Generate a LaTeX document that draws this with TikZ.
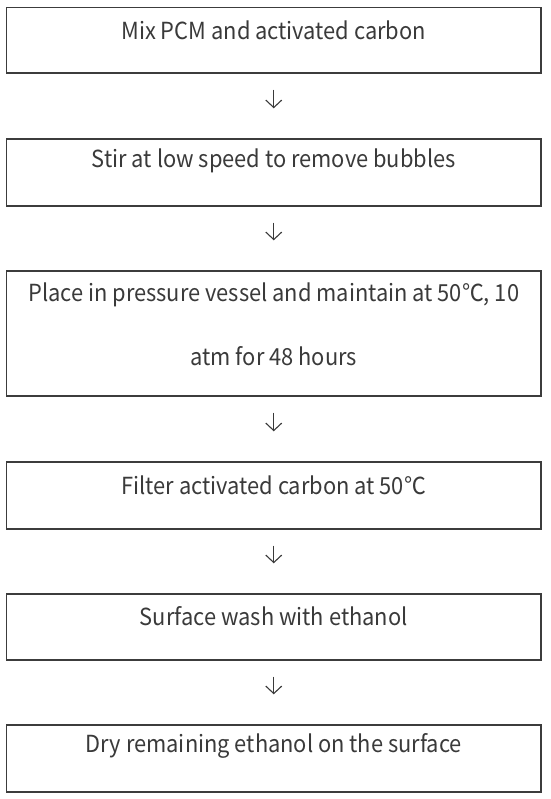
\documentclass[tikz,border=0pt]{standalone}
\usepackage{fontspec}
\setmainfont[FakeStretch=0.93]{Noto Sans CJK JP}
\usetikzlibrary{arrows.meta}
\definecolor{linegray}{HTML}{3C3C3C}
\definecolor{textgray}{HTML}{3A3A3A}
\begin{document}
\begin{tikzpicture}[x=1pt,y=-1pt,
  box/.style={draw=linegray, line width=1.4pt, minimum width=534.5pt, inner sep=0pt, fill=white},
  txt/.style={text=textgray, font=\fontsize{23.5}{28}\selectfont, inner sep=0pt, anchor=center},
  arr/.style={draw=textgray, line width=1.1pt, -{Straight Barb[length=7.5pt,width=16pt,line width=1.1pt]}}]
\useasboundingbox (0,0) rectangle (550,799);
% boxes
\node[box, minimum height=65.5pt] (b1) at (273.75,40.25) {};
\node[box, minimum height=67pt]   (b2) at (273.75,172.5) {};
\node[box, minimum height=125pt]  (b3) at (273.75,333.5) {};
\node[box, minimum height=67pt]   (b4) at (273.75,495.5) {};
\node[box, minimum height=66pt]   (b5) at (273.75,627) {};
\node[box, minimum height=67pt]   (b6) at (273.75,758.5) {};
% texts
\node[txt] (t1) at ([yshift=-24pt]b1.north) {Mix PCM and activated carbon};
\node[txt] (t2) at ([yshift=-23pt]b2.north) {Stir at low speed to remove bubbles};
\node[txt] (t3a) at ([yshift=-25pt]b3.north) {Place in pressure vessel and maintain at 50℃, 10};
\node[txt] (t3b) at ([yshift=-86pt]b3.north) {atm for 48 hours};
\node[txt] (t4) at ([yshift=-24pt]b4.north) {Filter activated carbon at 50℃};
\node[txt] (t5) at ([yshift=-23pt]b5.north) {Surface wash with ethanol};
\node[txt] (t6) at ([yshift=-22pt]b6.north) {Dry remaining ethanol on the surface};
% arrows
\draw[arr, shorten <=16pt, shorten >=30pt] (b1.south) -- (b2.north);
\draw[arr, shorten <=16pt, shorten >=30pt] (b2.south) -- (b3.north);
\draw[arr, shorten <=16pt, shorten >=30pt] (b3.south) -- (b4.north);
\draw[arr, shorten <=16pt, shorten >=30pt] (b4.south) -- (b5.north);
\draw[arr, shorten <=16pt, shorten >=30pt] (b5.south) -- (b6.north);
\end{tikzpicture}
\end{document}
